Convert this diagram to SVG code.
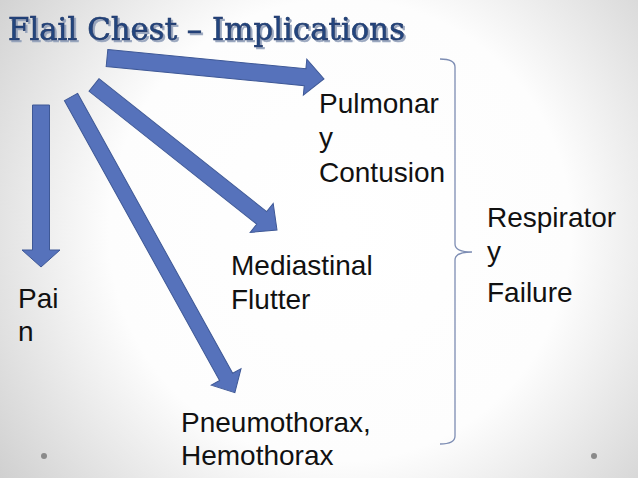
<svg xmlns="http://www.w3.org/2000/svg" width="638" height="478" viewBox="0 0 638 478">
<defs>
<radialGradient id="bg" cx="340" cy="230" r="420" gradientUnits="userSpaceOnUse">
<stop offset="0" stop-color="#ffffff"/>
<stop offset="0.55" stop-color="#fdfdfd"/>
<stop offset="1" stop-color="#d0d0d0"/>
</radialGradient>
<filter id="shadow" x="-5%" y="-20%" width="110%" height="150%">
<feDropShadow dx="2" dy="2" stdDeviation="0.6" flood-color="#8f9db8" flood-opacity="0.9"/>
</filter>
<style>
.arr{fill:#5672bb;stroke:#3e5896;stroke-width:1}
.lbl{font-family:"Liberation Sans",Arial,sans-serif;font-size:28px;fill:#111}
.title{font-family:"DejaVu Serif","Liberation Serif",serif;font-size:31px}
.brace{fill:none;stroke:#7d8db3;stroke-width:1.3}
.dot{fill:#8a8a8a}
</style>
</defs>
<rect x="0" y="0" width="638" height="478" fill="url(#bg)"/>
<g id="title">
<text class="title" x="8" y="40" fill="#24457e" stroke="#1b3565" stroke-width="0.6" filter="url(#shadow)" textLength="397" lengthAdjust="spacingAndGlyphs">Flail Chest – Implications</text>
</g>
<g id="connectors">
<polygon class="arr" transform="translate(107 58) rotate(5.53)" points="0,-8.5 199,-8.5 199,-18 218,0 199,18 199,8.5 0,8.5"/>
<polygon class="arr" transform="translate(41 105) rotate(90)" points="0,-8.5 145,-8.5 145,-19 162,0 145,19 145,8.5 0,8.5"/>
<polygon class="arr" transform="translate(94 85) rotate(38.4)" points="0,-8 214,-8 214,-18.5 233.5,0 214,18.5 214,8 0,8"/>
<polygon class="arr" transform="translate(71 97) rotate(61)" points="0,-7.5 320,-7.5 320,-17 338,0 320,17 320,7.5 0,7.5"/>
<path class="brace" d="M440,59 Q455,59 455,67 L455,244 Q455,252 472,252 Q455,252 455,260 L455,436 Q455,444 440,444"/>
</g>
<g id="pulmonary">
<text class="lbl" x="319" y="113">Pulmonar</text>
<text class="lbl" x="319" y="147">y</text>
<text class="lbl" x="319" y="182">Contusion</text>
</g>
<g id="pain">
<text class="lbl" x="18" y="308">Pai</text>
<text class="lbl" x="18" y="341">n</text>
</g>
<g id="mediastinal">
<text class="lbl" x="231" y="275">Mediastinal</text>
<text class="lbl" x="231" y="309">Flutter</text>
</g>
<g id="pneumothorax">
<text class="lbl" x="181" y="432">Pneumothorax,</text>
<text class="lbl" x="181" y="465">Hemothorax</text>
</g>
<g id="respiratory">
<text class="lbl" x="487" y="227">Respirator</text>
<text class="lbl" x="487" y="261">y</text>
<text class="lbl" x="487" y="302">Failure</text>
</g>
<circle class="dot" cx="44" cy="456" r="3"/>
<circle class="dot" cx="594" cy="456" r="3"/>
</svg>
